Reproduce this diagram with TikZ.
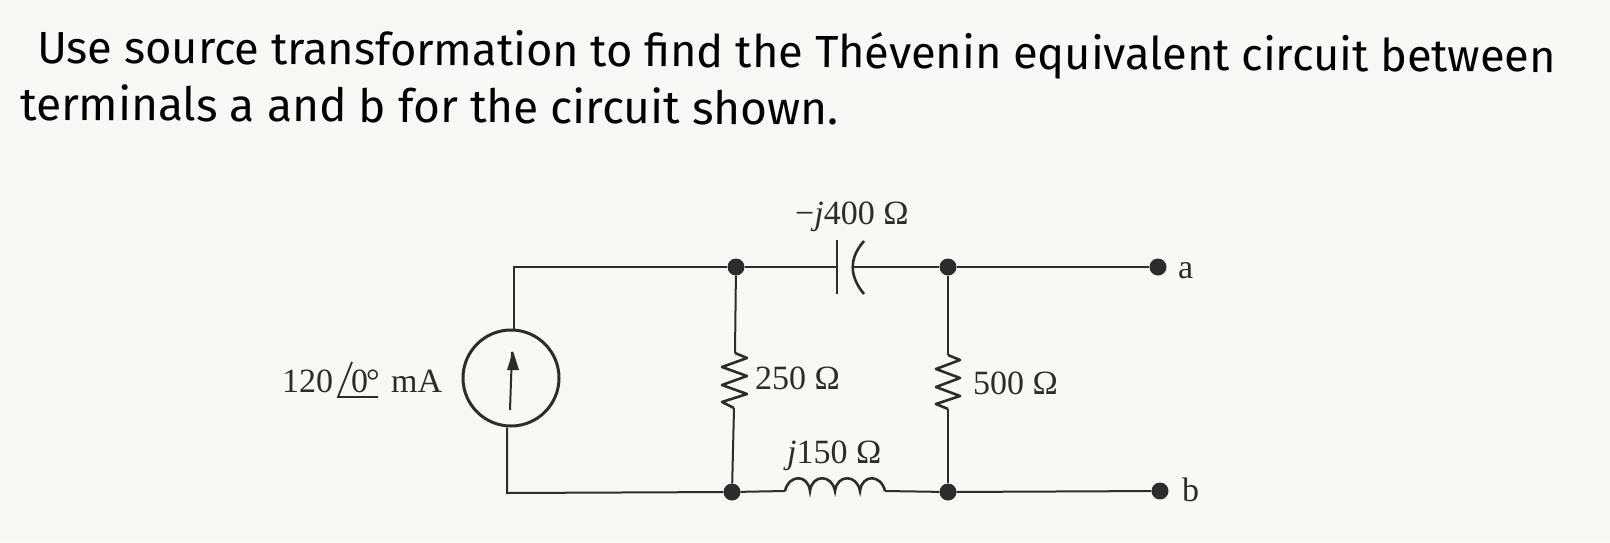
\documentclass[tikz,border=0pt]{standalone}
\usepackage{fontspec}
\setmainfont{Liberation Serif}
\newfontfamily\titlefont{Fira Sans}
\definecolor{paper}{HTML}{F8F8F6}
\definecolor{ink}{HTML}{2C2C2C}
\tikzset{
  wire/.style={draw=ink,line width=2pt},
  thickline/.style={draw=ink,line width=2.6pt},
  dotnode/.style={circle,fill=ink,inner sep=0pt,minimum size=17pt},
  lab/.style={anchor=base west,inner sep=0pt,text=ink,font=\fontsize{34}{34}\selectfont},
  titletext/.style={anchor=base west,inner sep=0pt,text=black,font=\titlefont\fontsize{45.1}{45.1}\selectfont},
}
\begin{document}
\begin{tikzpicture}[x=1pt,y=-1pt]
\path[fill=paper] (0,0) rectangle (1610,542);
\useasboundingbox (0,0) rectangle (1610,542);
% title
\node[titletext,rotate=-0.35] (t1) at (37,63) {Use source transformation to find the Thévenin equivalent circuit between};
\node[titletext,rotate=-0.35,font=\titlefont\fontsize{46}{46}\selectfont] (t2) at (20,120) {terminals a and b for the circuit shown.};
% junctions
\node[dotnode] (n1) at (736,267) {};
\node[dotnode] (n2) at (948,267) {};
\node[dotnode] (na) at (1158,267) {};
\node[dotnode] (n3) at (732,492) {};
\node[dotnode] (n4) at (948,492) {};
\node[dotnode] (nb) at (1160,491) {};
% source
\node[circle,draw=ink,line width=3pt,minimum size=96pt,inner sep=0pt] (src) at (511,378) {};
\coordinate (tl) at (514,267);
\coordinate (bl) at (507,493);
\coordinate (arrB) at (510,410);
\coordinate (arrT) at (512,352);
\draw[wire] (src.north) ++(3,0) -- (tl) -- (n1);
\draw[wire] (src.south) ++(-4,0) -- (bl) -- (n3);
\draw[wire] (arrB) -- (arrT);
\fill[ink] (513,351) -- (507,370) -- (519,370) -- cycle;
% capacitor
\coordinate (capL) at (837,267);
\coordinate (capR) at (853,267);
\draw[wire] (n1) -- (capL);
\draw[thickline] (837,240) -- (837,294);
\draw[thickline] (864,241) .. controls (849,258) and (849,276) .. (864,294);
\draw[wire] (capR) -- (n2);
\draw[wire] (n2) -- (na);
% resistors
\coordinate (r1a) at (735,353);
\coordinate (r1b) at (734,408);
\draw[wire] (n1) -- (r1a);
\draw[thickline,line join=round] (r1a) -- (747,358) -- (722,367) -- (747,376) -- (722,385) -- (747,394) -- (722,402) -- (r1b);
\draw[wire] (r1b) -- (n3);
\coordinate (r2a) at (948,355);
\coordinate (r2b) at (948,409);
\draw[wire] (n2) -- (r2a);
\draw[thickline,line join=round] (r2a) -- (960,360) -- (936,369) -- (960,378) -- (936,387) -- (960,396) -- (936,404) -- (r2b);
\draw[wire] (r2b) -- (n4);
% inductor
\coordinate (la) at (785,491);
\coordinate (lb) at (885,491);
\draw[wire] (n3) -- (la);
\draw[thickline] (la) .. controls (789,474) and (808,474) .. (810,491)
  .. controls (812,474) and (832,474) .. (835,491)
  .. controls (837,474) and (857,474) .. (860,491)
  .. controls (862,474) and (881,474) .. (lb);
\draw[wire] (lb) -- (n4);
\draw[wire] (n4) -- (nb);
% labels
\node[lab] (l120) at (282,392) {120};
\node[lab] (lang) at (351,392) {0\kern-2pt°};
\node[lab] (lma) at (391,392) {mA};
\coordinate (s1) at (338,397);
\coordinate (s2) at (352,362);
\coordinate (s3) at (378,397);
\draw[draw=ink,line width=1.8pt] (s2) -- (s1) -- (s3);
\node[lab] (l400) at (795,224) {−\textit{j}400 Ω};
\node[lab] (l250) at (755,389) {250 Ω};
\node[lab] (l500) at (973,394) {500 Ω};
\node[lab] (l150) at (787,463) {\textit{j}150 Ω};
\node[lab] (la2) at (1178,278) {a};
\node[lab] (lb2) at (1182,501) {b};
\end{tikzpicture}
\end{document}
